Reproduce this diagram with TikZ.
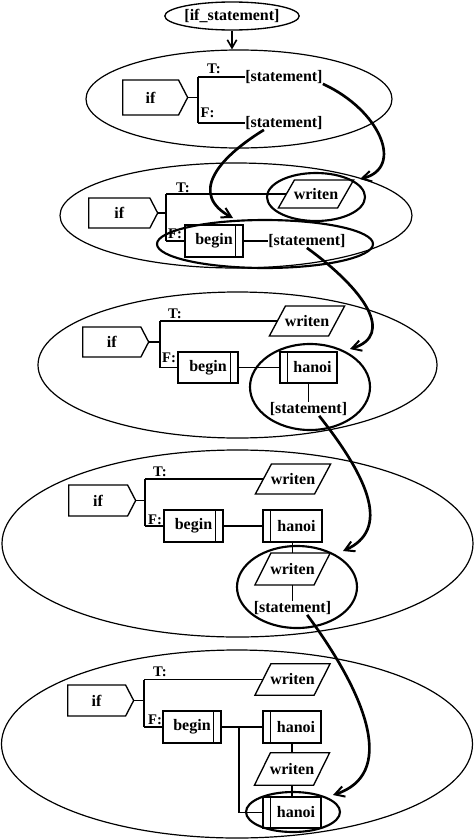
\documentclass[tikz,border=0pt]{standalone}
\usepackage{fontspec}
\setmainfont{Liberation Serif}
\usetikzlibrary{shapes.geometric,shapes.symbols,arrows.meta}
\newcommand\wrdraw[1]{\draw[line width=1pt] ([xshift=-6pt]#1.south west) -- ([xshift=-6pt]#1.south east) -- ([xshift=6pt]#1.north east) -- ([xshift=6pt]#1.north west) -- cycle;}
\begin{document}
\begin{tikzpicture}[x=0.75pt,y=-0.75pt,
  every node/.style={font=\bfseries\fontsize{12}{14}\selectfont, inner sep=0pt},
  bigell/.style={ellipse, draw, line width=0.9pt},
  smell/.style={ellipse, draw, line width=1.6pt},
  ifbox/.style={signal, draw, signal to=east, signal pointer angle=125, line width=1pt, anchor=west},
  blk/.style={rectangle, draw, line width=1pt},
  wr/.style={rectangle, minimum width=44pt},
  conn/.style={line width=0.9pt},
  flow/.style={line width=2pt, -{Straight Barb[length=7pt,width=8pt,line width=1.5pt]}},
  stm/.style={anchor=west},
  lbl/.style={font=\bfseries\fontsize{11}{12}\selectfont}
]
\useasboundingbox (0,0) rectangle (474,839);

% ---------- big ellipses ----------
\node[bigell, minimum width=229.5pt, minimum height=73.5pt] (E1) at (239,99) {};
\node[bigell, minimum width=264pt, minimum height=78.75pt] (E2) at (236,215.5) {};
\node[bigell, minimum width=299.25pt, minimum height=109.5pt] (E3) at (237.5,365) {};
\node[bigell, minimum width=353.25pt, minimum height=140.25pt] (E4) at (237.5,543.5) {};
\node[bigell, minimum width=353.25pt, minimum height=141pt] (E5) at (237,744) {};

% ---------- top ----------
\node[ellipse, draw, line width=1pt, minimum width=97.5pt, minimum height=21pt] (top) at (232,16) {[if\_statement]};
\draw[line width=1.5pt, -{Straight Barb[length=6pt,width=7pt,line width=1.2pt]}] (top.south) -- (top.south |- E1.north);

% ---------- panel 1 ----------
\node[ifbox, minimum width=48.75pt, minimum height=26.25pt] (if1) at (122,97.5) {if\hspace{18pt}};
\coordinate (v1t) at (198,77);
\coordinate (v1b) at (198,123);
\node[lbl] (T1) at (214,69) {T:};
\node[lbl] (F1) at (207.5,113) {F:};
\node[stm] (s1a) at (245,77) {[statement]};
\node[stm] (s1b) at (245,123) {[statement]};
\draw[conn] (if1.east) -- (if1.east -| v1t);
\draw[conn] (v1t) -- (v1b);
\draw[conn] (v1t) -- (s1a.west);
\draw[conn] (v1b) -- (s1b.west);

% ---------- panel 2 ----------
\node[smell, minimum width=73.5pt, minimum height=36pt] (eA) at (316,197) {};
\node[smell, minimum width=162pt, minimum height=36pt] (eB) at (265,244) {};
\node[ifbox, minimum width=51.75pt, minimum height=22.5pt] (if2) at (88,213) {if\hspace{18pt}};
\coordinate (v2t) at (166,194);
\coordinate (v2b) at (166,241);
\node[lbl] (T2) at (183,188) {T:};
\node[lbl] (F2) at (175,234) {F:};
\node[wr, minimum height=20.5pt] (w2) at (316,194) {writen};
\wrdraw{w2}
\node[blk, minimum width=43.5pt, minimum height=24pt] (b2) at (214,241) {begin\hspace{6pt}};
\node[stm] (s2) at (268,241) {[statement]};
\draw[conn] (if2.east) -- (if2.east -| v2t);
\draw[conn] (v2t) -- (v2b);
\draw[conn] (v2t) -- (w2.west);
\draw[conn] (v2b) -- (b2.west);
\draw[conn] (b2.east) -- (s2.west);
\draw[line width=1pt] ([xshift=-6pt]b2.north east) -- ([xshift=-6pt]b2.south east);

% ---------- panel 3 ----------
\node[smell, minimum width=90pt, minimum height=64.5pt] (eC) at (310,387) {};
\node[ifbox, minimum width=49.5pt, minimum height=22.5pt] (if3) at (82,342) {if\hspace{14pt}};
\coordinate (v3t) at (160,321);
\coordinate (v3b) at (160,367.5);
\node[lbl] (T3) at (175,314) {T:};
\node[lbl] (F3) at (169,358) {F:};
\node[wr, minimum height=22pt] (w3) at (307,321) {writen};
\wrdraw{w3}
\node[blk, minimum width=45pt, minimum height=23.25pt] (b3) at (208,367.5) {begin\hspace{6pt}};
\node[blk, minimum width=42.75pt, minimum height=23.25pt] (h3) at (308.5,367.5) {\hspace{6pt}hanoi};
\node (s3) at (308.5,409) {[statement]};
\draw[conn] (if3.east) -- (if3.east -| v3t);
\draw[conn] (v3t) -- (v3b);
\draw[conn] (v3t) -- (w3.west);
\draw[conn] (v3b) -- (b3.west);
\draw[line width=1.3pt] (b3.east) -- (h3.west);
\draw[conn] (h3.south) -- (s3.north);
\draw[line width=1pt] ([xshift=-6pt]b3.north east) -- ([xshift=-6pt]b3.south east);
\draw[line width=1pt] ([xshift=6pt]h3.north west) -- ([xshift=6pt]h3.south west);

% ---------- panel 4 ----------
\node[smell, minimum width=90pt, minimum height=61.5pt] (eD) at (297,587) {};
\node[ifbox, minimum width=50.25pt, minimum height=23.25pt] (if4) at (68,500.5) {if\hspace{18pt}};
\coordinate (v4t) at (145,479);
\coordinate (v4b) at (145,526);
\node[lbl] (T4) at (160,472) {T:};
\node[lbl] (F4) at (155,520) {F:};
\node[wr, minimum height=22pt] (w4a) at (293,479) {writen};
\wrdraw{w4a}
\node[blk, minimum width=44.25pt, minimum height=24pt] (b4) at (193.5,526) {begin\hspace{6pt}};
\node[blk, minimum width=44.25pt, minimum height=24pt] (h4) at (292.5,526) {\hspace{6pt}hanoi};
\node[wr, minimum height=23.5pt] (w4b) at (292.5,569) {writen};
\wrdraw{w4b}
\node (s4) at (292.5,608) {[statement]};
\draw[conn] (if4.east) -- (if4.east -| v4t);
\draw[conn] (v4t) -- (v4b);
\draw[conn] (v4t) -- (w4a.west);
\draw[conn] (v4b) -- (b4.west);
\draw[conn] (b4.east) -- (h4.west);
\draw[conn] (h4.south) -- (w4b.north);
\draw[conn] (w4b.south) -- (s4.north);
\draw[line width=1pt] ([xshift=-6pt]b4.north east) -- ([xshift=-6pt]b4.south east);
\draw[line width=1pt] ([xshift=6pt]h4.north west) -- ([xshift=6pt]h4.south west);

% ---------- panel 5 ----------
\node[smell, minimum width=70.5pt, minimum height=30pt] (eE) at (293,812) {};
\node[ifbox, minimum width=49.5pt, minimum height=23.25pt] (if5) at (67,700.5) {if\hspace{18pt}};
\coordinate (v5t) at (144,679.5);
\coordinate (v5b) at (144,727);
\node[lbl] (T5) at (160,672) {T:};
\node[lbl] (F5) at (155,720) {F:};
\node[wr, minimum height=23.25pt] (w5a) at (292.5,679.5) {writen};
\wrdraw{w5a}
\node[blk, minimum width=43.5pt, minimum height=24pt] (b5) at (192,727) {begin\hspace{6pt}};
\node[blk, minimum width=43.5pt, minimum height=24pt] (h5a) at (292,727) {\hspace{6pt}hanoi};
\node[wr, minimum height=24pt] (w5b) at (292,769) {writen};
\wrdraw{w5b}
\node[blk, minimum width=43.5pt, minimum height=23.25pt] (h5b) at (292,812.5) {\hspace{6pt}hanoi};
\coordinate (j5) at (239,727);
\coordinate (j5b) at (239,812.5);
\draw[conn] (if5.east) -- (if5.east -| v5t);
\draw[conn] (v5t) -- (v5b);
\draw[conn] (v5t) -- (w5a.west);
\draw[conn] (v5b) -- (b5.west);
\draw[conn] (b5.east) -- (h5a.west);
\draw[conn] (j5) -- (j5b) -- (h5b.west);
\draw[conn] (h5a.south) -- (w5b.north);
\draw[conn] (w5b.south) -- (h5b.north);
\draw[line width=1pt] ([xshift=-6pt]b5.north east) -- ([xshift=-6pt]b5.south east);
\draw[line width=1pt] ([xshift=6pt]h5a.north west) -- ([xshift=6pt]h5a.south west);
\draw[line width=1pt] ([xshift=6pt]h5b.north west) -- ([xshift=6pt]h5b.south west);

% ---------- flow arrows ----------
\coordinate (aA) at (360,179);
\coordinate (aB) at (233,218);
\coordinate (aC) at (350,349);
\coordinate (aD) at (343,551);
\coordinate (aE) at (333,795);
\draw[flow] (s1a.south east) .. controls (380,110) and (405,168) .. (aA);
\draw[flow] ([xshift=-15pt]s1b.south) .. controls (215,160) and (190,195) .. (aB);
\draw[flow] (s2.south) .. controls (365,290) and (395,335) .. (aC);
\draw[flow] ([xshift=8pt]s3.south) .. controls (370,480) and (390,530) .. (aD);
\draw[flow] ([xshift=11pt]s4.south) .. controls (370,700) and (395,775) .. (aE);
\end{tikzpicture}
\end{document}
